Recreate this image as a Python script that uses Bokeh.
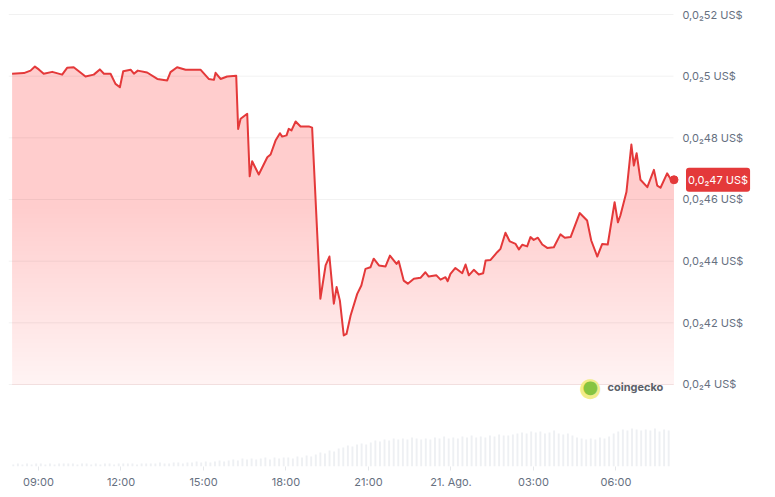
import numpy as np
from bokeh.plotting import figure
from bokeh.models import (Range1d, FixedTicker, CustomJSTickFormatter, Label)
from bokeh.core.properties import value
from bokeh.embed import file_html
from bokeh.resources import INLINE

# ---- data: hours since 20 Aug 08:00, price in US$ ----
hours = [0.04, 0.47, 0.71, 0.87, 1.01, 1.19, 1.50, 1.86, 2.04, 2.28,
         2.71, 3.01, 3.23, 3.38, 3.62, 3.80, 3.96, 4.08, 4.35, 4.47,
         4.61, 4.95, 5.32, 5.68, 5.80, 6.04, 6.35, 6.89, 7.19, 7.38,
         7.44, 7.62, 7.86, 8.19, 8.26, 8.35, 8.59, 8.68, 8.77, 9.01,
         9.32, 9.44, 9.62, 9.78, 9.86, 10.02, 10.10, 10.20, 10.35, 10.53,
         10.83, 10.95, 11.25, 11.44, 11.58, 11.74, 11.84, 11.96, 12.10, 12.20,
         12.35, 12.59, 12.74, 12.89, 13.07, 13.19, 13.38, 13.62, 13.78, 14.02,
         14.10, 14.28, 14.43, 14.65, 14.89, 15.07, 15.19, 15.47, 15.62, 15.80,
         15.88, 15.98, 16.16, 16.41, 16.53, 16.65, 16.83, 17.01, 17.17, 17.26,
         17.44, 17.68, 17.80, 17.98, 18.14, 18.35, 18.47, 18.59, 18.77, 18.89,
         19.01, 19.16, 19.32, 19.50, 19.74, 19.98, 20.14, 20.35, 20.68, 20.95,
         21.10, 21.32, 21.50, 21.70, 21.95, 22.07, 22.16, 22.38, 22.56, 22.65,
         22.75, 22.89, 23.14, 23.38, 23.50, 23.62, 23.86, 23.98, 24.11]

prices = [0.005008, 0.005010, 0.005018, 0.005031, 0.005022, 0.005008, 0.005014, 0.005005, 0.005027, 0.005029,
          0.004999, 0.005005, 0.005022, 0.005008, 0.005008, 0.004975, 0.004964, 0.005016, 0.005021, 0.005008,
          0.005018, 0.005012, 0.004991, 0.004986, 0.005013, 0.005029, 0.005021, 0.005021, 0.004991, 0.004988,
          0.005011, 0.004991, 0.004999, 0.005001, 0.004829, 0.004862, 0.004878, 0.004675, 0.004724, 0.004681,
          0.004737, 0.004746, 0.004791, 0.004815, 0.004804, 0.004808, 0.004829, 0.004824, 0.004853, 0.004837,
          0.004837, 0.004833, 0.004278, 0.004386, 0.004415, 0.004262, 0.004316, 0.004272, 0.004159, 0.004164,
          0.004224, 0.004294, 0.004321, 0.004375, 0.004380, 0.004408, 0.004386, 0.004383, 0.004418, 0.004391,
          0.004400, 0.004337, 0.004327, 0.004343, 0.004346, 0.004364, 0.004350, 0.004354, 0.004340, 0.004348,
          0.004335, 0.004359, 0.004378, 0.004361, 0.004389, 0.004354, 0.004372, 0.004357, 0.004361, 0.004402,
          0.004404, 0.004429, 0.004440, 0.004492, 0.004464, 0.004456, 0.004438, 0.004453, 0.004448, 0.004478,
          0.004469, 0.004476, 0.004454, 0.004443, 0.004445, 0.004487, 0.004476, 0.004478, 0.004556, 0.004532,
          0.004467, 0.004415, 0.004456, 0.004454, 0.004591, 0.004526, 0.004548, 0.004624, 0.004778, 0.004710,
          0.004750, 0.004664, 0.004640, 0.004696, 0.004645, 0.004638, 0.004685, 0.004667, 0.004664]

# volume per 10-minute interval (relative units)
volume = [2, 3, 2, 3, 2, 3,   3, 2, 3, 2, 3, 3,   3, 3, 2, 3, 3, 2,   3, 2, 3, 3, 2, 3,
          3, 3, 3, 2, 3, 3,   3, 3, 4, 3, 3, 4,   4, 3, 4, 4, 5, 4,   5, 4, 5, 6, 5, 6,
          7, 6, 8, 7, 8, 7,   8, 9, 7, 9, 8, 9,   9, 8, 10, 9, 11, 10, 12, 14, 13, 16, 15, 18,
          19, 21, 20, 22, 23, 22, 24, 26, 25, 27, 26, 28, 27, 28, 27, 29, 28, 27, 28, 27, 29, 28, 30, 28,
          29, 28, 30, 29, 31, 29, 30, 29, 31, 30, 32, 31, 31, 32, 33, 34, 33, 35, 34, 35, 33, 34, 36, 33,
          32, 33, 31, 29, 28, 27, 28, 27, 29, 28, 30, 33, 35, 37, 36, 38, 37, 36, 37, 36, 38, 35, 37, 36]
volume_hours = [i / 6 + 1 / 12 for i in range(len(volume))]

x_ticks = [1, 4, 7, 10, 13, 16, 19, 22]
x_tick_labels = ["09:00", "12:00", "15:00", "18:00", "21:00", "21. Ago.", "03:00", "06:00"]
y_ticks = [0.0040, 0.0042, 0.0044, 0.0046, 0.0048, 0.0050, 0.0052]
y_tick_labels = ["0,0\u20824 US$", "0,0\u208242 US$", "0,0\u208244 US$", "0,0\u208246 US$",
                 "0,0\u208248 US$", "0,0\u20825 US$", "0,0\u208252 US$"]

assert len(hours) == len(prices)

LINE = "#e4393a"
FONT = "Inter"
GREY = "#66707f"

X0, X1 = -0.091, 27.51      # frame spans the price panel plus the label column
X_END = 24.09               # right edge of the price panel (grid end)
Y0, Y1 = 0.003734, 0.005213
BASE = 0.0040

p = figure(width=775, height=497, x_range=Range1d(X0, X1), y_range=Range1d(Y0, Y1),
           y_axis_location=None, output_backend="svg", toolbar_location=None,
           min_border_left=8, min_border_right=8, min_border_top=10, min_border_bottom=31)
p.outline_line_color = None
p.background_fill_color = "white"
p.border_fill_color = "white"
p.extra_y_ranges = {"vol": Range1d(0, 456)}
p.xgrid.grid_line_color = None
p.ygrid.grid_line_color = None

# volume bars
p.vbar(x=volume_hours, top=volume, bottom=0, width=0.07, y_range_name="vol",
       fill_color="#eef0f3", line_color=None)

# area fill
p.varea(x=hours, y1=BASE, y2=prices, fill_color="#ff2d2d", fill_alpha=0.24)

# white fading overlay to create vertical gradient
A_TOP = 0.24
def target_alpha(v):
    return 0.02 + 0.22 * (v - BASE) / (0.0052 - BASE)

edges = np.linspace(0.0052, BASE, 81)
prev_T = 1.0
q_top, q_alpha = [], []
for k in range(len(edges) - 1):
    mid = 0.5 * (edges[k] + edges[k + 1])
    T = target_alpha(mid) / A_TOP
    w = 1 - T / prev_T
    prev_T = T
    q_top.append(edges[k])
    q_alpha.append(max(0.0, min(1.0, w)))
p.quad(left=X0, right=X1, bottom=BASE, top=q_top, fill_color="white",
       fill_alpha=q_alpha, line_color=None)

# horizontal grid lines (price panel only)
p.segment(x0=X0, x1=X_END, y0=y_ticks, y1=y_ticks, line_color="black",
          line_alpha=0.055, line_width=1)

# price line
p.line(hours, prices, line_color=LINE, line_width=2, line_join="round")
p.scatter([hours[-1]], [prices[-1]], size=8, color=LINE)

# price tick labels (right column)
p.text(x=X_END, y=y_ticks, text=y_tick_labels, x_offset=9,
       text_font=value(FONT), text_font_size="11px", text_color=GREY,
       text_align="left", text_baseline="middle")

# x axis
p.xaxis.ticker = FixedTicker(ticks=x_ticks)
p.xaxis.formatter = CustomJSTickFormatter(args=dict(tvals=x_ticks, tlabels=x_tick_labels), code="""
const i = tvals.findIndex(t => Math.abs(t - tick) < 1e-6);
return i >= 0 ? tlabels[i] : "";
""")
ax = p.xaxis[0]
ax.axis_line_color = None
ax.major_tick_in = 0
ax.major_tick_out = 4
ax.major_tick_line_color = "#e6e8eb"
ax.minor_tick_line_color = None
ax.major_label_standoff = 4
ax.major_label_text_font = FONT
ax.major_label_text_font_size = "11px"
ax.major_label_text_color = GREY

# last price tag
def fmt(v):
    return "0,0\u2082" + str(int(round(v * 1e4))).rstrip("0") + " US$"

tag = Label(x=hours[-1], y=prices[-1], x_offset=12, text=fmt(prices[-1]),
            text_color="white", text_font=FONT, text_font_size="11px",
            text_baseline="middle", text_align="left",
            background_fill_color=LINE, background_fill_alpha=1.0,
            padding=(2, 5), border_radius=3)
p.add_layout(tag)

# coingecko watermark
p.add_layout(Label(x=21.07, y=0.003993, text="\u25cf", text_color="#f1ec8a",
                   text_font="DejaVu Sans", text_font_size="26px",
                   text_align="center", text_baseline="middle"))
p.add_layout(Label(x=21.07, y=0.003993, text="\u25cf", text_color="#86c440",
                   text_font="DejaVu Sans", text_font_size="18px",
                   text_align="center", text_baseline="middle"))
p.add_layout(Label(x=21.69, y=0.003993, text="coingecko", text_color="#5c6068",
                   text_font=FONT, text_font_size="11px", text_font_style="bold",
                   text_align="left", text_baseline="middle"))

open("out.html", "w").write(file_html(p, INLINE))
